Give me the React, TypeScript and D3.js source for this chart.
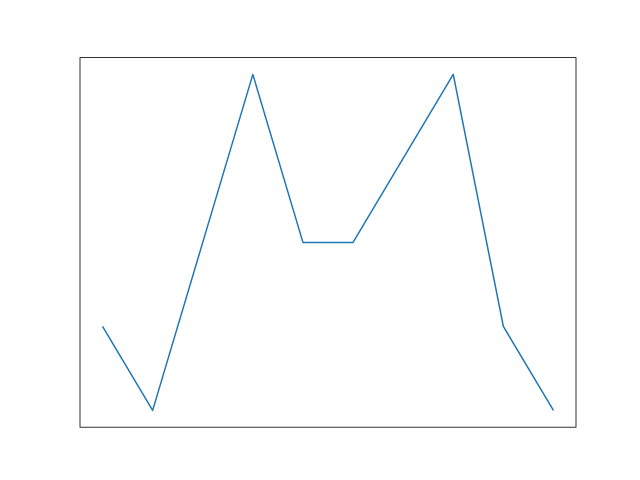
import * as d3 from "d3";

const width = 640;
const height = 480;
const margin = { top: 57.6, right: 64, bottom: 52.8, left: 80 };

// series
const xValues = [0, 1, 2, 3, 4, 5, 6, 7, 8, 9];
const yValues = [2, 1, 3, 5, 3, 3, 4, 5, 2, 1];

const App = () => {
  const xMin = d3.min(xValues) as number;
  const xMax = d3.max(xValues) as number;
  const yMin = d3.min(yValues) as number;
  const yMax = d3.max(yValues) as number;
  // matplotlib-like 5% margins
  const xPad = (xMax - xMin) * 0.05;
  const yPad = (yMax - yMin) * 0.05;

  const xScale = d3
    .scaleLinear()
    .domain([xMin - xPad, xMax + xPad])
    .range([margin.left, width - margin.right]);
  const yScale = d3
    .scaleLinear()
    .domain([yMin - yPad, yMax + yPad])
    .range([height - margin.bottom, margin.top]);

  const line = d3
    .line<number>()
    .x((_, i) => xScale(xValues[i]))
    .y((d) => yScale(d));

  return (
    <svg
      width={width}
      height={height}
      style={{ position: "absolute", left: 0, top: 0, background: "#fff" }}
    >
      <path
        d={line(yValues) ?? undefined}
        fill="none"
        stroke="#1f77b4"
        strokeWidth={1.5}
        strokeLinejoin="round"
      />
      <rect
        x={margin.left}
        y={margin.top}
        width={width - margin.left - margin.right}
        height={height - margin.top - margin.bottom}
        fill="none"
        stroke="#000"
        strokeWidth={0.8}
      />
    </svg>
  );
};

export default App;
